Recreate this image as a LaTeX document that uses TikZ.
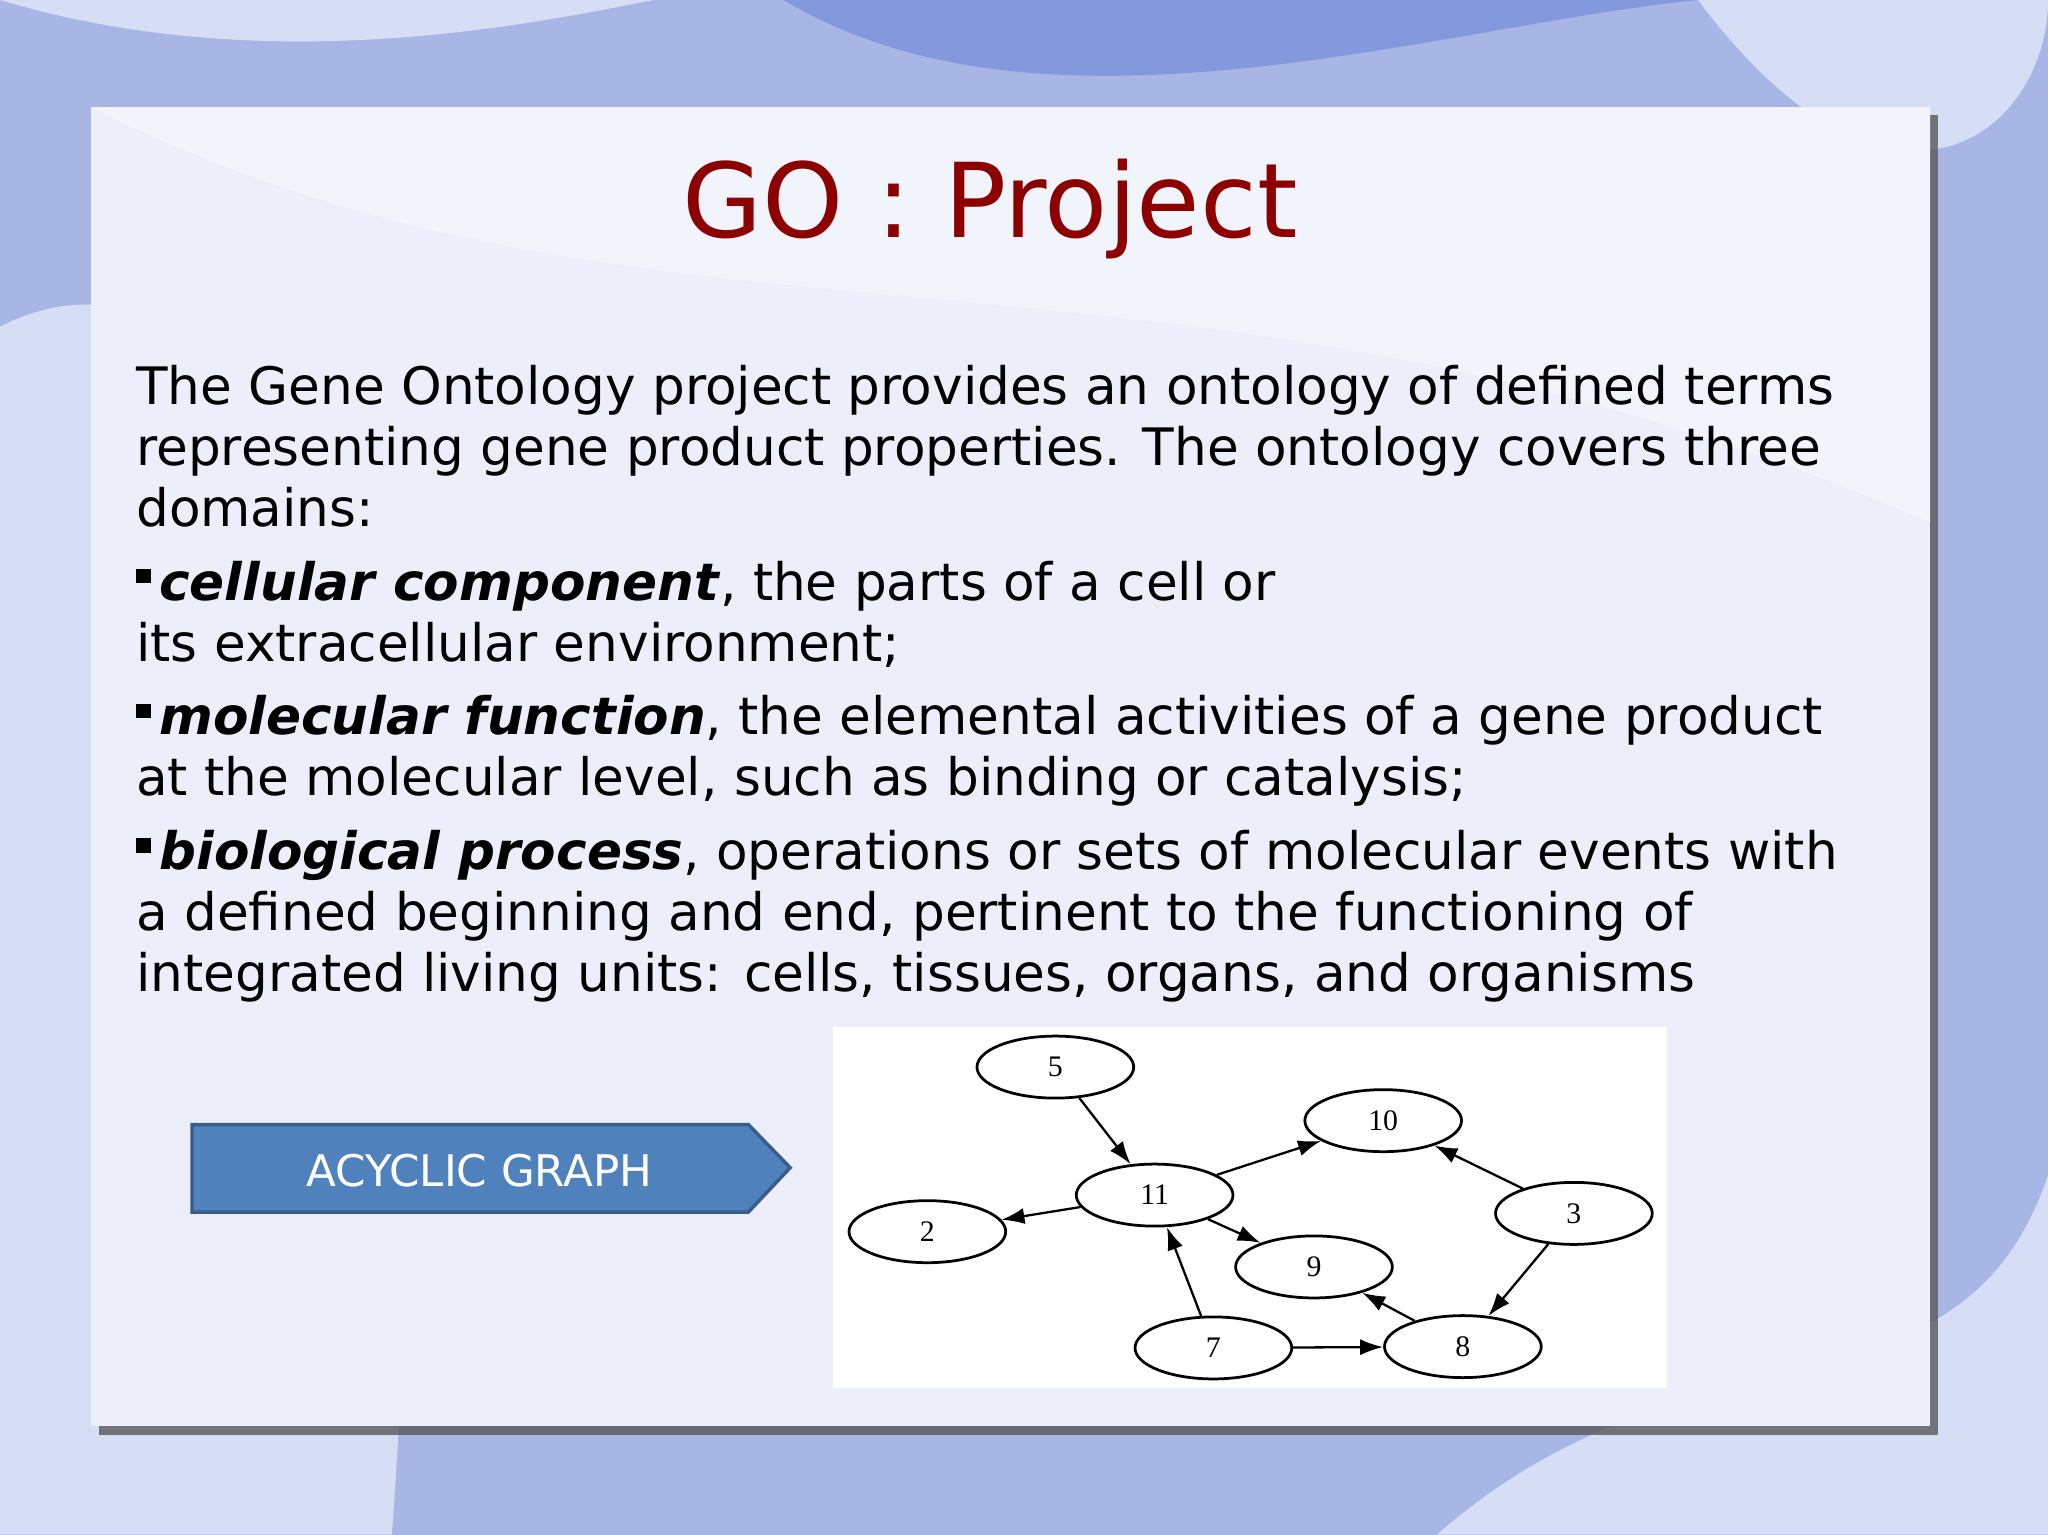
\documentclass[tikz,border=0pt]{standalone}
\usepackage{fontspec}
\setmainfont{DejaVu Sans}
\newfontfamily\grfont{Liberation Serif}
\usetikzlibrary{arrows.meta,shapes.geometric}
\definecolor{bgA}{RGB}{168,182,230}
\definecolor{bgB}{RGB}{132,152,222}
\definecolor{bgC}{RGB}{214,222,245}
\definecolor{panel}{RGB}{236,239,250}
\begin{document}
\begin{tikzpicture}[x=0.02cm,y=-0.02cm,
 gnode/.style={draw,ellipse,minimum width=2.4cm,minimum height=0.95cm,fill=white,font=\fontsize{13}{13}\selectfont\grfont,line width=1.2pt},
 gedge/.style={-{Latex[length=10pt,width=7pt]},line width=1pt},
 body/.style={anchor=north west,align=left,font=\fontsize{22.5}{26.6}\selectfont,inner sep=0pt}]
\useasboundingbox (0,0) rectangle (1568,1175);
\fill[bgA] (0,0) rectangle (1568,1175);
\fill[bgC] (0,250) .. controls (200,150) and (350,500) .. (300,1175) -- (0,1175) -- cycle;
\fill[bgB] (600,0) .. controls (800,120) and (1100,20) .. (1300,0) -- cycle;
\fill[bgC] (1300,0) .. controls (1450,200) and (1568,100) .. (1568,0) -- cycle;
\fill[bgC] (1100,1175) .. controls (1300,1000) and (1500,1100) .. (1568,900) -- (1568,1175) -- cycle;
\fill[bgC] (0,0) .. controls (200,60) and (400,20) .. (500,0) -- cycle;
% panel
\fill[black!65,opacity=0.8] (76,88) rectangle (1484,1099);
\fill[panel] (70,82) rectangle (1478,1092);
\fill[white,opacity=0.35] (70,82) .. controls (500,300) and (900,150) .. (1478,400) -- (1478,82) -- cycle;
\node[font=\fontsize{45}{45}\selectfont,text=red!55!black] (title) at (758,160) {GO : Project};
\node[body] (t1) at (104,279) {The Gene Ontology project provides an ontology of defined terms\\representing gene product properties. The ontology covers three\\domains:};
\node[body] (t2) at (104,429) {\rule[0.32em]{0.28em}{0.28em}\,\textbf{\textit{cellular component}}, the parts of a cell or\\its extracellular environment;};
\node[body] (t3) at (104,532) {\rule[0.32em]{0.28em}{0.28em}\,\textbf{\textit{molecular function}}, the elemental activities of a gene product\\at the molecular level, such as binding or catalysis;};
\node[body] (t4) at (104,635) {\rule[0.32em]{0.28em}{0.28em}\,\textbf{\textit{biological process}}, operations or sets of molecular events with\\a defined beginning and end, pertinent to the functioning of\\integrated living units: cells, tissues, organs, and organisms};
% arrow
\draw[fill={rgb,255:red,79;green,129;blue,189},draw={rgb,255:red,56;green,93;blue,138},line width=1.5pt] (147,861) -- (573,861) -- (605,894) -- (573,928) -- (147,928) -- cycle;
\node[text=white,font=\fontsize{19}{19}\selectfont] (ag) at (367,896) {ACYCLIC GRAPH};
% graph
\fill[white] (638,786) rectangle (1276,1063);
\node[gnode] (n5) at (808,817) {5};
\node[gnode] (n10) at (1059,858) {10};
\node[gnode] (n11) at (884,915) {11};
\node[gnode] (n2) at (710,943) {2};
\node[gnode] (n3) at (1205,929) {3};
\node[gnode] (n9) at (1006,970) {9};
\node[gnode] (n7) at (929,1032) {7};
\node[gnode] (n8) at (1120,1031) {8};
\draw[gedge] (n5) -- (n11);
\draw[gedge] (n11) -- (n10);
\draw[gedge] (n11) -- (n2);
\draw[gedge] (n11) -- (n9);
\draw[gedge] (n3) -- (n10);
\draw[gedge] (n3) -- (n8);
\draw[gedge] (n7) -- (n11);
\draw[gedge] (n7) -- (n8);
\draw[gedge] (n8) -- (n9);
\end{tikzpicture}
\end{document}
